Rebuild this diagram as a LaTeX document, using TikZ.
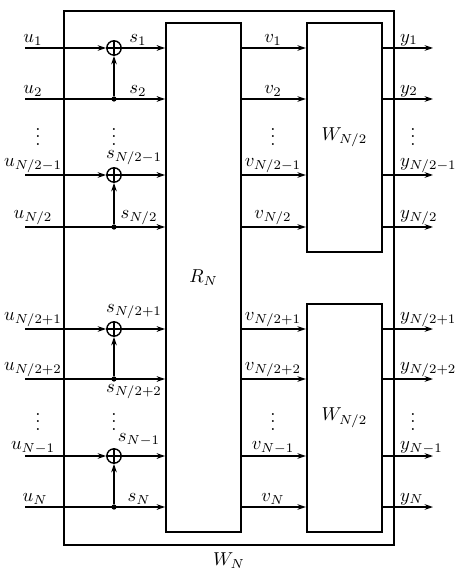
\documentclass[tikz,border=0pt]{standalone}
\usepackage{amsfonts, amssymb, amsmath}
\usetikzlibrary{arrows.meta, fit}

\tikzset{
  blk/.style={draw, line width=.9pt, inner sep=0pt},
  sig/.style={-{Stealth[length=4.5pt,width=3pt]}, line width=.75pt},
  xor/.style={draw, circle, line width=.75pt, minimum size=7.7pt, inner sep=0pt,
    path picture={\draw[line width=.6pt] (path picture bounding box.north) -- (path picture bounding box.south)
      (path picture bounding box.west) -- (path picture bounding box.east);}},
  dot/.style={circle, fill, inner sep=0pt, minimum size=2.8pt},
  lab/.style={inner sep=1pt},
  vd/.style={inner sep=0pt}
}

\begin{document}
\begin{tikzpicture}[x=0.01882cm, y=-0.01882cm]
\useasboundingbox (0,0) rectangle (467,572);
% boxes
\node[blk, fit={(64,11) (394,545)}, label={[name=lWN]below:$W_N$}] (WN) {};
\node[blk, fit={(166,23) (241,532)}] (RN) {};
\node (lRN) at (RN.center) {$R_N$};
\node[blk, fit={(306.7,23) (382,251.7)}] (Wup) {};
\node (lWup) at (Wup.center) {$W_{N/2}$};
\node[blk, fit={(306.7,304) (382,531.7)}] (Wlo) {};
\node (lWlo) at (Wlo.center) {$W_{N/2}$};
% inputs
\coordinate (u1) at (25,48);
\coordinate (u2) at (25,99);
\coordinate (u3) at (25,175);
\coordinate (u4) at (25,227);
\coordinate (u5) at (25,329);
\coordinate (u6) at (25,379);
\coordinate (u7) at (25,456);
\coordinate (u8) at (25,507);
% adders and branch points
\node[xor] (x1) at (114,48) {};
\node[dot] (d2) at (114,99) {};
\node[xor] (x3) at (114,175) {};
\node[dot] (d4) at (114,227) {};
\node[xor] (x5) at (114,329) {};
\node[dot] (d6) at (114,379) {};
\node[xor] (x7) at (114,456) {};
\node[dot] (d8) at (114,507) {};
% first stage
\draw[sig] (u1) -- (x1);
\draw[sig] (x1) -- (x1 -| RN.west);
\draw[sig] (u2) -- (u2 -| RN.west);
\draw[sig] (d2) -- (x1);
\draw[sig] (u3) -- (x3);
\draw[sig] (x3) -- (x3 -| RN.west);
\draw[sig] (u4) -- (u4 -| RN.west);
\draw[sig] (d4) -- (x3);
\draw[sig] (u5) -- (x5);
\draw[sig] (x5) -- (x5 -| RN.west);
\draw[sig] (u6) -- (u6 -| RN.west);
\draw[sig] (d6) -- (x5);
\draw[sig] (u7) -- (x7);
\draw[sig] (x7) -- (x7 -| RN.west);
\draw[sig] (u8) -- (u8 -| RN.west);
\draw[sig] (d8) -- (x7);
% R_N to W_{N/2}
\draw[sig] (u1 -| RN.east) -- (u1 -| Wup.west);
\draw[sig] (u2 -| RN.east) -- (u2 -| Wup.west);
\draw[sig] (u3 -| RN.east) -- (u3 -| Wup.west);
\draw[sig] (u4 -| RN.east) -- (u4 -| Wup.west);
\draw[sig] (u5 -| RN.east) -- (u5 -| Wlo.west);
\draw[sig] (u6 -| RN.east) -- (u6 -| Wlo.west);
\draw[sig] (u7 -| RN.east) -- (u7 -| Wlo.west);
\draw[sig] (u8 -| RN.east) -- (u8 -| Wlo.west);
% outputs
\coordinate (y1) at (433,48);
\coordinate (y2) at (433,99);
\coordinate (y3) at (433,175);
\coordinate (y4) at (433,227);
\coordinate (y5) at (433,329);
\coordinate (y6) at (433,379);
\coordinate (y7) at (433,456);
\coordinate (y8) at (433,507);
\draw[sig] (y1 -| Wup.east) -- (y1);
\draw[sig] (y2 -| Wup.east) -- (y2);
\draw[sig] (y3 -| Wup.east) -- (y3);
\draw[sig] (y4 -| Wup.east) -- (y4);
\draw[sig] (y5 -| Wlo.east) -- (y5);
\draw[sig] (y6 -| Wlo.east) -- (y6);
\draw[sig] (y7 -| Wlo.east) -- (y7);
\draw[sig] (y8 -| Wlo.east) -- (y8);
% labels
\node[lab, anchor=south] (lu1) at (33,48) {$u_1$};
\node[lab, anchor=south] (lu2) at (33,99) {$u_2$};
\node[lab, anchor=south] (lu3) at (33,175) {$u_{N/2-1}$};
\node[lab, anchor=south] (lu4) at (33,227) {$u_{N/2}$};
\node[lab, anchor=south] (lu5) at (33,329) {$u_{N/2+1}$};
\node[lab, anchor=south] (lu6) at (33,379) {$u_{N/2+2}$};
\node[lab, anchor=south] (lu7) at (33,456) {$u_{N-1}$};
\node[lab, anchor=south] (lu8) at (35,507) {$u_N$};
\node[lab, anchor=south] (ls1) at (138,48) {$s_1$};
\node[lab, anchor=south] (ls2) at (138,99) {$s_2$};
\node[lab, anchor=south] (ls3) at (134,167) {$s_{N/2-1}$};
\node[lab, anchor=south] (ls4) at (139,227) {$s_{N/2}$};
\node[lab, anchor=south] (ls5) at (134,321) {$s_{N/2+1}$};
\node[anchor=north, inner sep=2pt] (ls6) at (134,380) {$s_{N/2+2}$};
\node[lab, anchor=south] (ls7) at (139,448) {$s_{N-1}$};
\node[lab, anchor=south] (ls8) at (139,507) {$s_N$};
\node[lab, anchor=south] (lv1) at (273,48) {$v_1$};
\node[lab, anchor=south] (lv2) at (273,99) {$v_2$};
\node[lab, anchor=south] (lv3) at (273,175) {$v_{N/2-1}$};
\node[lab, anchor=south] (lv4) at (273,227) {$v_{N/2}$};
\node[lab, anchor=south] (lv5) at (273,329) {$v_{N/2+1}$};
\node[lab, anchor=south] (lv6) at (273,379) {$v_{N/2+2}$};
\node[lab, anchor=south] (lv7) at (273,456) {$v_{N-1}$};
\node[lab, anchor=south] (lv8) at (273,507) {$v_N$};
\node[lab, anchor=south west] (ly1) at (398,48) {$y_1$};
\node[lab, anchor=south west] (ly2) at (398,99) {$y_2$};
\node[lab, anchor=south west] (ly3) at (398,175) {$y_{N/2-1}$};
\node[lab, anchor=south west] (ly4) at (398,227) {$y_{N/2}$};
\node[lab, anchor=south west] (ly5) at (398,329) {$y_{N/2+1}$};
\node[lab, anchor=south west] (ly6) at (398,379) {$y_{N/2+2}$};
\node[lab, anchor=south west] (ly7) at (398,456) {$y_{N-1}$};
\node[lab, anchor=south west] (ly8) at (398,507) {$y_N$};
% dots
\node[vd] (vd1) at (38,131) {$\vdots$};
\node[vd] (vd2) at (114,131) {$\vdots$};
\node[vd] (vd3) at (273,131) {$\vdots$};
\node[vd] (vd4) at (413,131) {$\vdots$};
\node[vd] (vd5) at (38,416) {$\vdots$};
\node[vd] (vd6) at (114,416) {$\vdots$};
\node[vd] (vd7) at (273,416) {$\vdots$};
\node[vd] (vd8) at (413,416) {$\vdots$};
\end{tikzpicture}
\end{document}
